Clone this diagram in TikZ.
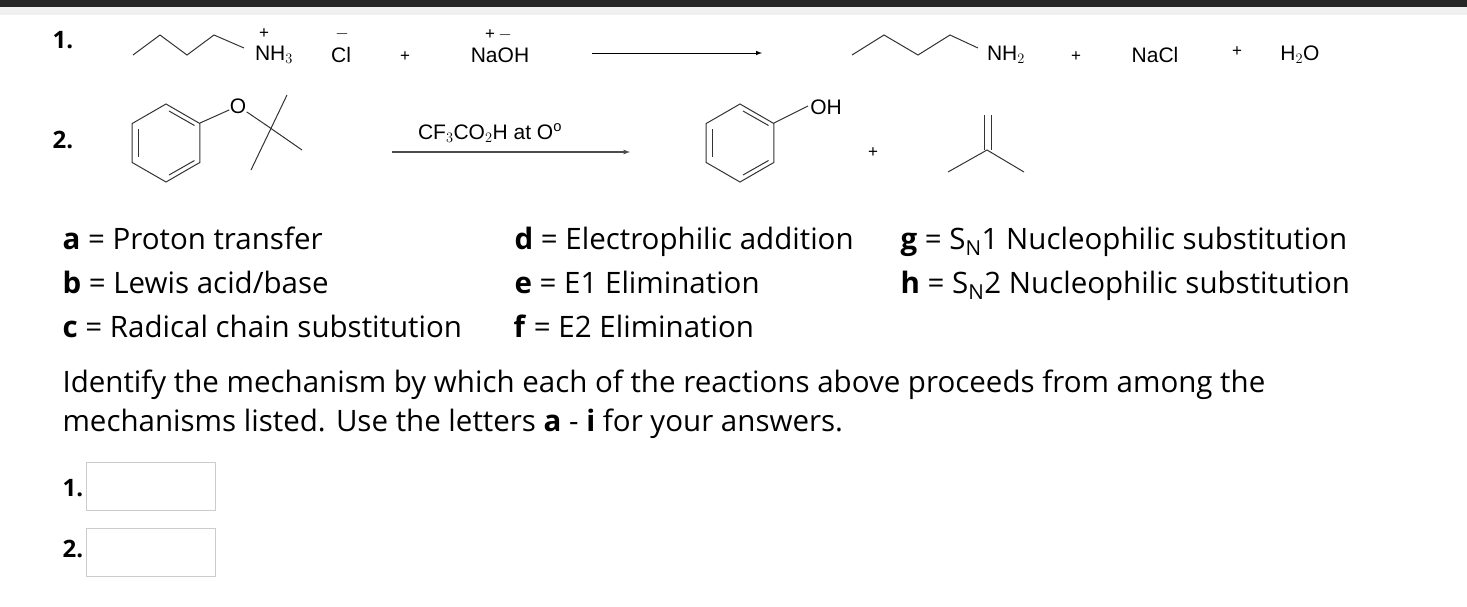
\documentclass[tikz,border=0pt]{standalone}
\usepackage{fontspec}
\setmainfont{Open Sans}
\newfontfamily\chemf{Liberation Sans}
\usetikzlibrary{calc}
\begin{document}
\begin{tikzpicture}[x=1pt,y=-1pt,line width=1.1pt,
  chem/.style={font=\chemf\fontsize{21}{21}\selectfont,inner sep=0pt},
  chg/.style={font=\chemf\fontsize{17}{17}\selectfont,inner sep=0pt},
  bond/.style={line width=1pt,draw=black!80},
  txt/.style={font=\fontsize{29.5}{32}\selectfont,anchor=base west,inner sep=0pt},
  num/.style={font=\fontsize{24}{24}\selectfont\bfseries,anchor=base west,inner sep=0pt},
  ans/.style={draw=black!20,line width=1pt,minimum width=129pt,minimum height=48pt,anchor=north west},
  ring/.pic={
    \draw[bond] (0,-39) -- (33.8,-19.5) -- (33.8,19.5) -- (0,39) -- (-33.8,19.5) -- (-33.8,-19.5) -- cycle;
    \draw[bond] (-28,-14) -- (-28,14);
    \draw[bond] (3,-32) -- (28.5,-17.5);
    \draw[bond] (28.5,17.5) -- (3,32);
  }]
\useasboundingbox (0,0) rectangle (1467,606);
\fill[black!85] (0,0) rectangle (1467,7);
\fill[black!6] (0,7) rectangle (1467,15);
% row 1
\node[num] (n1) at (52,48) {1.};
\draw[bond] (133,55) -- (160,35) -- (187,55) -- (214,35) -- (244,48);
\node[chem] (nh3) at (274,55) {NH$_3$};
\node[chg] (p1) at (264,34) {+};
\node[chem] (cl) at (341,55) {Cl};
\node[chg] (m1) at (342,34) {$-$};
\node[chg] (pl1) at (405,57) {+};
\node[chem] (naoh) at (500,55) {NaOH};
\node[chg] (p2) at (490,35) {+};
\node[chg] (m2) at (505,35) {$-$};
\coordinate (a1s) at (592,53); \coordinate (a1e) at (762,53);
\draw[line width=1pt,-latex] (a1s) -- (a1e);
\draw[bond] (852,55) -- (884,35) -- (918,55) -- (950,35) -- (978,48);
\node[chem] (nh2) at (1006,55) {NH$_2$};
\node[chg] (pl2) at (1076,57) {+};
\node[chem] (nacl) at (1155,55) {NaCl};
\node[chg] (pl3) at (1237,52) {+};
\node[chem] (h2o) at (1300,55) {H$_2$O};
% row 2
\node[num] (n2) at (52,148) {2.};
\pic at (166,143) {ring};
\node[chem] (o1) at (238,106) {O};
\draw[bond] (200,123) -- (o1);
\draw[bond] (o1) -- (266,125);
\draw[bond] (287,95) -- (251,170);
\draw[bond] (266,125) -- (302,150);
\node[chem] (cf) at (490,133) {CF$_3$CO$_2$H at O\textsuperscript{o}};
\coordinate (a2s) at (392,152); \coordinate (a2e) at (630,152);
\draw[line width=1.2pt,draw=black!70,-latex] (a2s) -- (a2e);
\pic at (740,143) {ring};
\node[chem] (oh) at (826,107) {OH};
\draw[bond] (774,123) -- (808,106);
\node[chg] (pl4) at (873,153) {+};
\draw[bond] (984,115) -- (984,150);
\draw[bond] (991,115) -- (991,150);
\draw[bond] (948,172) -- (987,150) -- (1024,172);
% mechanisms
\node[txt] (ta) at (62,249) {\textbf{a} = Proton transfer};
\node[txt] (tb) at (62,293) {\textbf{b} = Lewis acid/base};
\node[txt] (tc) at (62,337) {\textbf{c} = Radical chain substitution};
\node[txt] (td) at (514,249) {\textbf{d} = Electrophilic addition};
\node[txt] (te) at (514,293) {\textbf{e} = E1 Elimination};
\node[txt] (tf) at (513,337) {\textbf{f} = E2 Elimination};
\node[txt] (tg) at (900,249) {\textbf{g} = S\textsubscript{N}1 Nucleophilic substitution};
\node[txt] (th) at (900,293) {\textbf{h} = S\textsubscript{N}2 Nucleophilic substitution};
\node[txt] (p1t) at (62,392) {Identify the mechanism by which each of the reactions above proceeds from among the};
\node[txt] (p2t) at (62,431) {mechanisms listed. Use the letters \textbf{a} - \textbf{i} for your answers.};
\node[num] (q1) at (62,496) {1.};
\node[ans] (b1) at (86,462) {};
\node[num] (q2) at (62,557) {2.};
\node[ans] (b2) at (86,528) {};
\end{tikzpicture}
\end{document}
